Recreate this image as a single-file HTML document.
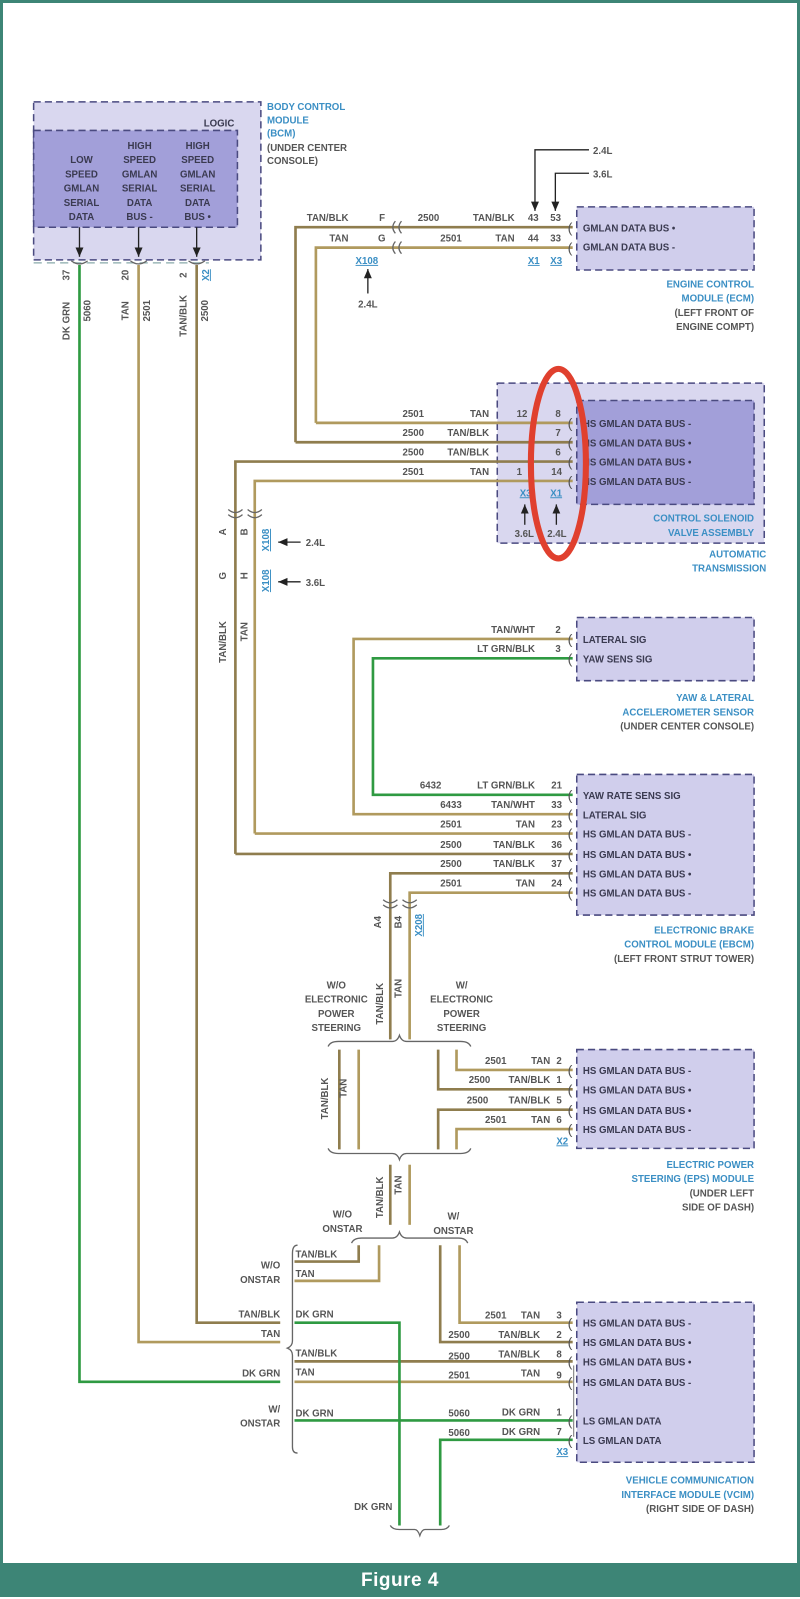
<!DOCTYPE html>
<html><head><meta charset="utf-8"><style>
html,body{margin:0;padding:0;background:#fff}
body{width:800px;height:1597px;position:relative;overflow:hidden}
.frame{position:absolute;left:0;top:0;width:794px;height:1560px;border:3px solid #3d8576;border-bottom:none}
.bar{position:absolute;left:0;top:1563px;width:800px;height:34px;background:#3d8576;color:#fff;font:bold 19px "Liberation Sans",sans-serif;text-align:center;line-height:36px;letter-spacing:0.5px}
svg{position:absolute;left:0;top:0}
text{font-family:"Liberation Sans",sans-serif;font-size:9.5px;font-weight:bold;fill:#555}
.b{fill:#3b8fc4}
.d{fill:#3a3a50}
.t{stroke:#b09a5e;stroke-width:2.6;fill:none}
.tb{stroke:#8f7d4e;stroke-width:2.6;fill:none}
.g{stroke:#2f9a42;stroke-width:2.6;fill:none}
.k{stroke:#222;stroke-width:1.3;fill:none}
.br{stroke:#666;stroke-width:1.3;fill:none}
.ob{fill:#d9d7ef;stroke:#4a4a80;stroke-width:1.5;stroke-dasharray:7,4}
.ib{fill:#a29fd9;stroke:#4a4a80;stroke-width:1.5;stroke-dasharray:7,4}
.mb{fill:#d0ceec;stroke:#4a4a80;stroke-width:1.5;stroke-dasharray:7,4}
.p{font-size:14px;font-weight:normal;fill:#555}
</style></head><body>
<div class="frame"></div>
<svg width="800" height="1597" viewBox="0 0 800 1597">
<defs><marker id="ah" markerWidth="8" markerHeight="8" refX="7" refY="4" orient="auto"><path d="M0,1 L7,4 L0,7 z" fill="#222"/></marker></defs>
<g transform="scale(1.019)">
<!-- BCM -->
<rect class="ob" x="33" y="100" width="223" height="155"/>
<rect class="ib" x="33" y="128" width="200" height="95"/>
<text x="230" y="124" text-anchor="end" class="d">LOGIC</text>
<g text-anchor="middle" class="d">
<text x="80" y="160" class="d">LOW</text><text x="80" y="174" class="d">SPEED</text><text x="80" y="188" class="d">GMLAN</text><text x="80" y="202" class="d">SERIAL</text><text x="80" y="216" class="d">DATA</text>
<text x="137" y="146" class="d">HIGH</text><text x="137" y="160" class="d">SPEED</text><text x="137" y="174" class="d">GMLAN</text><text x="137" y="188" class="d">SERIAL</text><text x="137" y="202" class="d">DATA</text><text x="137" y="216" class="d">BUS -</text>
<text x="194" y="146" class="d">HIGH</text><text x="194" y="160" class="d">SPEED</text><text x="194" y="174" class="d">GMLAN</text><text x="194" y="188" class="d">SERIAL</text><text x="194" y="202" class="d">DATA</text><text x="194" y="216" class="d">BUS •</text>
</g>
<line class="k" x1="78" y1="223" x2="78" y2="252" marker-end="url(#ah)"/>
<line class="k" x1="136" y1="223" x2="136" y2="252" marker-end="url(#ah)"/>
<line class="k" x1="193" y1="223" x2="193" y2="252" marker-end="url(#ah)"/>
<line x1="33" y1="258" x2="205" y2="258" stroke="#8aa" stroke-width="1.2" stroke-dasharray="8,5"/>
<path class="br" d="M70,256 Q78,262 86,256 M128,256 Q136,262 144,256 M185,256 Q193,262 201,256"/>
<text x="262" y="108" class="b">BODY CONTROL</text><text x="262" y="121" class="b">MODULE</text><text x="262" y="134" class="b">(BCM)</text>
<text x="262" y="148">(UNDER CENTER</text><text x="262" y="161">CONSOLE)</text>
<g text-anchor="middle">
<text transform="translate(68,270) rotate(-90)">37</text>
<text transform="translate(68,315) rotate(-90)">DK GRN</text>
<text transform="translate(89,305) rotate(-90)">5060</text>
<text transform="translate(126,270) rotate(-90)">20</text>
<text transform="translate(126,305) rotate(-90)">TAN</text>
<text transform="translate(147,305) rotate(-90)">2501</text>
<text transform="translate(183,270) rotate(-90)">2</text>
<text transform="translate(183,310) rotate(-90)">TAN/BLK</text>
<text transform="translate(204,305) rotate(-90)">2500</text>
<text transform="translate(205,270) rotate(-90)" class="b" text-decoration="underline">X2</text>
</g>
<!-- main verticals -->
<path class="g" d="M78,260 V1356 H275"/>
<path class="t" d="M136,260 V1317 H275"/>
<path class="tb" d="M193,260 V1298 H275"/>
<!-- ECM -->
<rect class="mb" x="566" y="203" width="174" height="62"/>
<text x="572" y="227" class="d">GMLAN DATA BUS •</text><text x="572" y="246" class="d">GMLAN DATA BUS -</text>
<path class="tb" d="M290,434 V223 H562"/>
<path class="t" d="M310,415 V243 H562"/>
<path class="br" d="M388,217 Q383,223 388,229 M394,217 Q389,223 394,229 M388,237 Q383,243 388,249 M394,237 Q389,243 394,249"/>
<text x="342" y="217" text-anchor="end">TAN/BLK</text><text x="372" y="217">F</text>
<text x="342" y="237" text-anchor="end">TAN</text><text x="371" y="237">G</text>
<text x="410" y="217">2500</text><text x="505" y="217" text-anchor="end">TAN/BLK</text><text x="518" y="217">43</text><text x="540" y="217">53</text>
<text x="432" y="237">2501</text><text x="505" y="237" text-anchor="end">TAN</text><text x="518" y="237">44</text><text x="540" y="237">33</text>
<text x="518" y="259" class="b" text-decoration="underline">X1</text><text x="540" y="259" class="b" text-decoration="underline">X3</text>
<text x="360" y="259" text-anchor="middle" class="b" text-decoration="underline">X108</text>
<line class="k" x1="361" y1="288" x2="361" y2="264" marker-end="url(#ah)"/>
<text x="361" y="302" text-anchor="middle">2.4L</text>
<path class="k" d="M578,147 H525 V207" marker-end="url(#ah)"/>
<path class="k" d="M578,170 H545 V207" marker-end="url(#ah)"/>
<text x="582" y="151">2.4L</text><text x="582" y="174">3.6L</text>
<text x="740" y="282" text-anchor="end" class="b">ENGINE CONTROL</text><text x="740" y="296" text-anchor="end" class="b">MODULE (ECM)</text>
<text x="740" y="310" text-anchor="end">(LEFT FRONT OF</text><text x="740" y="324" text-anchor="end">ENGINE COMPT)</text>
<!-- TCM -->
<rect class="ob" x="488" y="376" width="262" height="157"/>
<rect class="ib" x="566" y="393" width="174" height="102"/>
<text x="572" y="419" class="d">HS GMLAN DATA BUS -</text><text x="572" y="438" class="d">HS GMLAN DATA BUS •</text>
<text x="572" y="457" class="d">HS GMLAN DATA BUS •</text><text x="572" y="476" class="d">HS GMLAN DATA BUS -</text>
<path class="t" d="M310,415 H562"/><path class="tb" d="M290,434 H562"/>
<path class="tb" d="M231,838 V453 H562"/><path class="t" d="M250,818 V472 H562"/>
<text x="395" y="409">2501</text><text x="480" y="409" text-anchor="end">TAN</text><text x="507" y="409">12</text><text x="545" y="409">8</text>
<text x="395" y="428">2500</text><text x="480" y="428" text-anchor="end">TAN/BLK</text><text x="545" y="428">7</text>
<text x="395" y="447">2500</text><text x="480" y="447" text-anchor="end">TAN/BLK</text><text x="545" y="447">6</text>
<text x="395" y="466">2501</text><text x="480" y="466" text-anchor="end">TAN</text><text x="507" y="466">1</text><text x="541" y="466">14</text>
<text x="510" y="487" class="b" text-decoration="underline">X3</text><text x="540" y="487" class="b" text-decoration="underline">X1</text>
<line class="k" x1="515" y1="515" x2="515" y2="495" marker-end="url(#ah)"/>
<line class="k" x1="546" y1="515" x2="546" y2="495" marker-end="url(#ah)"/>
<text x="505" y="527">3.6L</text><text x="537" y="527">2.4L</text>
<text x="740" y="512" text-anchor="end" class="b">CONTROL SOLENOID</text><text x="740" y="526" text-anchor="end" class="b">VALVE ASSEMBLY</text>
<text x="752" y="547" text-anchor="end" class="b">AUTOMATIC</text><text x="752" y="561" text-anchor="end" class="b">TRANSMISSION</text>
<ellipse cx="548" cy="455" rx="27" ry="93" fill="none" stroke="#e0402e" stroke-width="6"/>
<!-- A/B connectors -->
<path class="br" d="M224,500 Q231,506 238,500 M224,505 Q231,511 238,505 M243,500 Q250,506 257,500 M243,505 Q250,511 257,505"/>
<g text-anchor="middle">
<text transform="translate(222,522) rotate(-90)">A</text><text transform="translate(243,522) rotate(-90)">B</text>
<text transform="translate(264,530) rotate(-90)" class="b" text-decoration="underline">X108</text>
<text transform="translate(222,565) rotate(-90)">G</text><text transform="translate(243,565) rotate(-90)">H</text>
<text transform="translate(264,570) rotate(-90)" class="b" text-decoration="underline">X108</text>
<text transform="translate(222,630) rotate(-90)">TAN/BLK</text><text transform="translate(243,620) rotate(-90)">TAN</text>
</g>
<line class="k" x1="295" y1="532" x2="273" y2="532" marker-end="url(#ah)"/><text x="300" y="536">2.4L</text>
<line class="k" x1="295" y1="571" x2="273" y2="571" marker-end="url(#ah)"/><text x="300" y="575">3.6L</text>
<!-- Yaw -->
<rect class="mb" x="566" y="606" width="174" height="62"/>
<text x="572" y="631" class="d">LATERAL SIG</text><text x="572" y="650" class="d">YAW SENS SIG</text>
<path class="t" d="M562,627 H347 V799 H562"/>
<path class="g" d="M562,646 H366 V780 H562"/>
<text x="525" y="621" text-anchor="end">TAN/WHT</text><text x="545" y="621">2</text>
<text x="525" y="640" text-anchor="end">LT GRN/BLK</text><text x="545" y="640">3</text>
<text x="740" y="688" text-anchor="end" class="b">YAW &amp; LATERAL</text><text x="740" y="702" text-anchor="end" class="b">ACCELEROMETER SENSOR</text>
<text x="740" y="716" text-anchor="end">(UNDER CENTER CONSOLE)</text>
<!-- EBCM -->
<rect class="mb" x="566" y="760" width="174" height="138"/>
<text x="572" y="784" class="d">YAW RATE SENS SIG</text><text x="572" y="803" class="d">LATERAL SIG</text>
<text x="572" y="822" class="d">HS GMLAN DATA BUS -</text><text x="572" y="842" class="d">HS GMLAN DATA BUS •</text>
<text x="572" y="861" class="d">HS GMLAN DATA BUS •</text><text x="572" y="880" class="d">HS GMLAN DATA BUS -</text>
<path class="t" d="M250,818 H562"/><path class="tb" d="M231,838 H562"/>
<path class="tb" d="M383,1020 V857 H562"/><path class="t" d="M402,1020 V876 H562"/>
<text x="412" y="774">6432</text><text x="525" y="774" text-anchor="end">LT GRN/BLK</text><text x="541" y="774">21</text>
<text x="432" y="793">6433</text><text x="525" y="793" text-anchor="end">TAN/WHT</text><text x="541" y="793">33</text>
<text x="432" y="812">2501</text><text x="525" y="812" text-anchor="end">TAN</text><text x="541" y="812">23</text>
<text x="432" y="832">2500</text><text x="525" y="832" text-anchor="end">TAN/BLK</text><text x="541" y="832">36</text>
<text x="432" y="851">2500</text><text x="525" y="851" text-anchor="end">TAN/BLK</text><text x="541" y="851">37</text>
<text x="432" y="870">2501</text><text x="525" y="870" text-anchor="end">TAN</text><text x="541" y="870">24</text>
<text x="740" y="916" text-anchor="end" class="b">ELECTRONIC BRAKE</text><text x="740" y="930" text-anchor="end" class="b">CONTROL MODULE (EBCM)</text>
<text x="740" y="944" text-anchor="end">(LEFT FRONT STRUT TOWER)</text>
<path class="br" d="M376,883 Q383,889 390,883 M376,888 Q383,894 390,888 M395,883 Q402,889 409,883 M395,888 Q402,894 409,888"/>
<g text-anchor="middle">
<text transform="translate(374,905) rotate(-90)">A4</text><text transform="translate(394,905) rotate(-90)">B4</text>
<text transform="translate(414,908) rotate(-90)" class="b" text-decoration="underline">X208</text>
<text transform="translate(376,985) rotate(-90)">TAN/BLK</text><text transform="translate(394,970) rotate(-90)">TAN</text>
<text x="330" y="970">W/O</text><text x="330" y="984">ELECTRONIC</text><text x="330" y="998">POWER</text><text x="330" y="1012">STEERING</text>
<text x="453" y="970">W/</text><text x="453" y="984">ELECTRONIC</text><text x="453" y="998">POWER</text><text x="453" y="1012">STEERING</text>
</g>
<path class="br" d="M322,1027 Q324,1022 332,1022 H385 Q390,1022 392,1016 Q394,1022 399,1022 H452 Q460,1022 462,1027"/>
<!--EPS-->
<path class="tb" d="M333,1030 V1128"/><path class="t" d="M352,1030 V1128"/>
<text transform="translate(322,1078) rotate(-90)" text-anchor="middle">TAN/BLK</text>
<text transform="translate(340,1068) rotate(-90)" text-anchor="middle">TAN</text>
<rect class="mb" x="566" y="1030" width="174" height="97"/>
<text x="572" y="1054" class="d">HS GMLAN DATA BUS -</text><text x="572" y="1073" class="d">HS GMLAN DATA BUS •</text>
<text x="572" y="1093" class="d">HS GMLAN DATA BUS •</text><text x="572" y="1112" class="d">HS GMLAN DATA BUS -</text>
<path class="t" d="M448,1030 V1050 H562"/><path class="tb" d="M430,1030 V1069 H562"/>
<path class="tb" d="M430,1128 V1089 H562"/><path class="t" d="M448,1128 V1108 H562"/>
<text x="476" y="1044">2501</text><text x="540" y="1044" text-anchor="end">TAN</text><text x="546" y="1044">2</text>
<text x="460" y="1063">2500</text><text x="540" y="1063" text-anchor="end">TAN/BLK</text><text x="546" y="1063">1</text>
<text x="458" y="1083">2500</text><text x="540" y="1083" text-anchor="end">TAN/BLK</text><text x="546" y="1083">5</text>
<text x="476" y="1102">2501</text><text x="540" y="1102" text-anchor="end">TAN</text><text x="546" y="1102">6</text>
<text x="546" y="1123" class="b" text-decoration="underline">X2</text>
<text x="740" y="1146" text-anchor="end" class="b">ELECTRIC POWER</text><text x="740" y="1160" text-anchor="end" class="b">STEERING (EPS) MODULE</text>
<text x="740" y="1174" text-anchor="end">(UNDER LEFT</text><text x="740" y="1188" text-anchor="end">SIDE OF DASH)</text>
<path class="br" d="M322,1127 Q324,1132 332,1132 H385 Q390,1132 392,1138 Q394,1132 399,1132 H452 Q460,1132 462,1127"/>
<path class="tb" d="M383,1143 V1202"/><path class="t" d="M402,1143 V1202"/>
<g text-anchor="middle">
<text transform="translate(376,1175) rotate(-90)">TAN/BLK</text><text transform="translate(394,1163) rotate(-90)">TAN</text>
<text x="336" y="1195">W/O</text><text x="336" y="1209">ONSTAR</text>
<text x="445" y="1197">W/</text><text x="445" y="1211">ONSTAR</text>
</g>
<path class="br" d="M345,1220 Q347,1215 355,1215 H385 Q390,1215 392,1209 Q394,1215 399,1215 H450 Q457,1215 459,1220"/>
<!-- VCIM area -->
<path class="tb" d="M352,1222 V1238 H289"/><path class="t" d="M372,1222 V1257 H289"/>
<text x="290" y="1234">TAN/BLK</text><text x="290" y="1253">TAN</text>
<path class="br" d="M292,1222 Q287,1222 287,1230 V1316 Q287,1321 282,1323 Q287,1325 287,1330 V1420 Q287,1426 292,1426"/>
<g text-anchor="end">
<text x="275" y="1245">W/O</text><text x="275" y="1259">ONSTAR</text>
<text x="275" y="1293">TAN/BLK</text><text x="275" y="1312">TAN</text>
<text x="275" y="1351">DK GRN</text>
<text x="275" y="1386">W/</text><text x="275" y="1400">ONSTAR</text>
</g>
<rect class="mb" x="566" y="1278" width="174" height="157"/>
<text x="572" y="1302" class="d">HS GMLAN DATA BUS -</text><text x="572" y="1321" class="d">HS GMLAN DATA BUS •</text>
<text x="572" y="1340" class="d">HS GMLAN DATA BUS •</text><text x="572" y="1360" class="d">HS GMLAN DATA BUS -</text>
<text x="572" y="1398" class="d">LS GMLAN DATA</text><text x="572" y="1417" class="d">LS GMLAN DATA</text>
<path class="t" d="M451,1222 V1298 H562"/><path class="tb" d="M432,1222 V1317 H562"/>
<path class="tb" d="M289,1336 H562"/><path class="t" d="M289,1356 H562"/>
<path class="g" d="M289,1394 H562"/>
<path class="g" d="M289,1298 H392 V1497"/>
<path class="g" d="M562,1413 H432 V1497"/>
<text x="290" y="1293">DK GRN</text><text x="290" y="1331">TAN/BLK</text><text x="290" y="1350">TAN</text><text x="290" y="1390">DK GRN</text>
<text x="476" y="1294">2501</text><text x="530" y="1294" text-anchor="end">TAN</text><text x="546" y="1294">3</text>
<text x="440" y="1313">2500</text><text x="530" y="1313" text-anchor="end">TAN/BLK</text><text x="546" y="1313">2</text>
<text x="440" y="1334">2500</text><text x="530" y="1332" text-anchor="end">TAN/BLK</text><text x="546" y="1332">8</text>
<text x="440" y="1353">2501</text><text x="530" y="1351" text-anchor="end">TAN</text><text x="546" y="1353">9</text>
<text x="440" y="1390">5060</text><text x="530" y="1389" text-anchor="end">DK GRN</text><text x="546" y="1389">1</text>
<text x="440" y="1409">5060</text><text x="530" y="1408" text-anchor="end">DK GRN</text><text x="546" y="1408">7</text>
<text x="546" y="1428" class="b" text-decoration="underline">X3</text>
<line x1="563" y1="1340" x2="563" y2="1410" stroke="#777" stroke-width="1"/>
<text x="740" y="1456" text-anchor="end" class="b">VEHICLE COMMUNICATION</text><text x="740" y="1470" text-anchor="end" class="b">INTERFACE MODULE (VCIM)</text>
<text x="740" y="1484" text-anchor="end">(RIGHT SIDE OF DASH)</text>
<text x="385" y="1482" text-anchor="end">DK GRN</text>
<path class="br" d="M383,1497 Q385,1501 392,1501 H407 Q410,1501 412,1507 Q414,1501 417,1501 H433 Q439,1501 441,1497"/>
<!-- pin parens -->
<g class="p">
<text x="557" y="228" class="p">(</text><text x="557" y="248" class="p">(</text>
<text x="557" y="420" class="p">(</text><text x="557" y="439" class="p">(</text><text x="557" y="458" class="p">(</text><text x="557" y="477" class="p">(</text>
<text x="557" y="632" class="p">(</text><text x="557" y="651" class="p">(</text>
<text x="557" y="785" class="p">(</text><text x="557" y="804" class="p">(</text><text x="557" y="823" class="p">(</text><text x="557" y="843" class="p">(</text><text x="557" y="862" class="p">(</text><text x="557" y="881" class="p">(</text>
<text x="557" y="1055" class="p">(</text><text x="557" y="1074" class="p">(</text><text x="557" y="1094" class="p">(</text><text x="557" y="1113" class="p">(</text>
<text x="557" y="1303" class="p">(</text><text x="557" y="1322" class="p">(</text><text x="557" y="1341" class="p">(</text><text x="557" y="1361" class="p">(</text><text x="557" y="1399" class="p">(</text><text x="557" y="1418" class="p">(</text>
</g>
</g>
</svg>
<div class="bar">Figure 4</div>
</body></html>
